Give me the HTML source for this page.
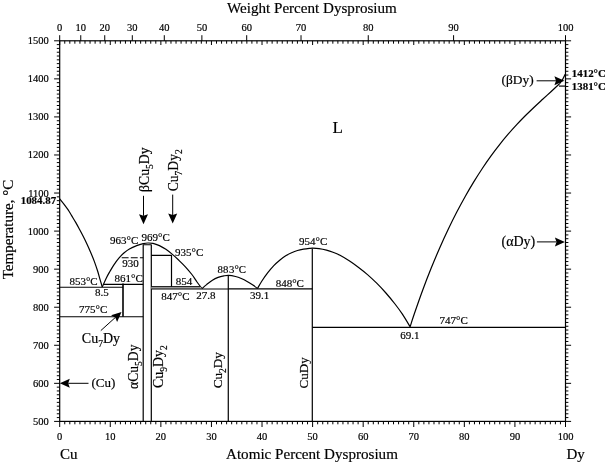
<!DOCTYPE html>
<html lang="en"><head><meta charset="utf-8"><title>Cu-Dy phase diagram</title>
<style>html,body{margin:0;padding:0;background:#fff}svg{display:block}</style></head>
<body>
<svg width="605" height="463" viewBox="0 0 605 463" font-family="'Liberation Serif', 'Times New Roman', Times, serif" fill="#000">
<rect width="605" height="463" fill="#fff"/>
<g stroke="#000" stroke-width="1.2" fill="none" stroke-linecap="butt">
<rect x="59.7" y="40.8" width="505.8" height="380.6"/>
<path d="M59.7 421.4h-5.6M565.5 421.4h5.6M59.7 417.59h-2.9M565.5 417.59h2.9M59.7 413.79h-2.9M565.5 413.79h2.9M59.7 409.98h-2.9M565.5 409.98h2.9M59.7 406.18h-2.9M565.5 406.18h2.9M59.7 402.37h-2.9M565.5 402.37h2.9M59.7 398.56h-2.9M565.5 398.56h2.9M59.7 394.76h-2.9M565.5 394.76h2.9M59.7 390.95h-2.9M565.5 390.95h2.9M59.7 387.15h-2.9M565.5 387.15h2.9M59.7 383.34h-5.6M565.5 383.34h5.6M59.7 379.53h-2.9M565.5 379.53h2.9M59.7 375.73h-2.9M565.5 375.73h2.9M59.7 371.92h-2.9M565.5 371.92h2.9M59.7 368.12h-2.9M565.5 368.12h2.9M59.7 364.31h-2.9M565.5 364.31h2.9M59.7 360.5h-2.9M565.5 360.5h2.9M59.7 356.7h-2.9M565.5 356.7h2.9M59.7 352.89h-2.9M565.5 352.89h2.9M59.7 349.09h-2.9M565.5 349.09h2.9M59.7 345.28h-5.6M565.5 345.28h5.6M59.7 341.47h-2.9M565.5 341.47h2.9M59.7 337.67h-2.9M565.5 337.67h2.9M59.7 333.86h-2.9M565.5 333.86h2.9M59.7 330.06h-2.9M565.5 330.06h2.9M59.7 326.25h-2.9M565.5 326.25h2.9M59.7 322.44h-2.9M565.5 322.44h2.9M59.7 318.64h-2.9M565.5 318.64h2.9M59.7 314.83h-2.9M565.5 314.83h2.9M59.7 311.03h-2.9M565.5 311.03h2.9M59.7 307.22h-5.6M565.5 307.22h5.6M59.7 303.41h-2.9M565.5 303.41h2.9M59.7 299.61h-2.9M565.5 299.61h2.9M59.7 295.8h-2.9M565.5 295.8h2.9M59.7 292h-2.9M565.5 292h2.9M59.7 288.19h-2.9M565.5 288.19h2.9M59.7 284.38h-2.9M565.5 284.38h2.9M59.7 280.58h-2.9M565.5 280.58h2.9M59.7 276.77h-2.9M565.5 276.77h2.9M59.7 272.97h-2.9M565.5 272.97h2.9M59.7 269.16h-5.6M565.5 269.16h5.6M59.7 265.35h-2.9M565.5 265.35h2.9M59.7 261.55h-2.9M565.5 261.55h2.9M59.7 257.74h-2.9M565.5 257.74h2.9M59.7 253.94h-2.9M565.5 253.94h2.9M59.7 250.13h-2.9M565.5 250.13h2.9M59.7 246.32h-2.9M565.5 246.32h2.9M59.7 242.52h-2.9M565.5 242.52h2.9M59.7 238.71h-2.9M565.5 238.71h2.9M59.7 234.91h-2.9M565.5 234.91h2.9M59.7 231.1h-5.6M565.5 231.1h5.6M59.7 227.29h-2.9M565.5 227.29h2.9M59.7 223.49h-2.9M565.5 223.49h2.9M59.7 219.68h-2.9M565.5 219.68h2.9M59.7 215.88h-2.9M565.5 215.88h2.9M59.7 212.07h-2.9M565.5 212.07h2.9M59.7 208.26h-2.9M565.5 208.26h2.9M59.7 204.46h-2.9M565.5 204.46h2.9M59.7 200.65h-2.9M565.5 200.65h2.9M59.7 196.85h-2.9M565.5 196.85h2.9M59.7 193.04h-5.6M565.5 193.04h5.6M59.7 189.23h-2.9M565.5 189.23h2.9M59.7 185.43h-2.9M565.5 185.43h2.9M59.7 181.62h-2.9M565.5 181.62h2.9M59.7 177.82h-2.9M565.5 177.82h2.9M59.7 174.01h-2.9M565.5 174.01h2.9M59.7 170.2h-2.9M565.5 170.2h2.9M59.7 166.4h-2.9M565.5 166.4h2.9M59.7 162.59h-2.9M565.5 162.59h2.9M59.7 158.79h-2.9M565.5 158.79h2.9M59.7 154.98h-5.6M565.5 154.98h5.6M59.7 151.17h-2.9M565.5 151.17h2.9M59.7 147.37h-2.9M565.5 147.37h2.9M59.7 143.56h-2.9M565.5 143.56h2.9M59.7 139.76h-2.9M565.5 139.76h2.9M59.7 135.95h-2.9M565.5 135.95h2.9M59.7 132.14h-2.9M565.5 132.14h2.9M59.7 128.34h-2.9M565.5 128.34h2.9M59.7 124.53h-2.9M565.5 124.53h2.9M59.7 120.73h-2.9M565.5 120.73h2.9M59.7 116.92h-5.6M565.5 116.92h5.6M59.7 113.11h-2.9M565.5 113.11h2.9M59.7 109.31h-2.9M565.5 109.31h2.9M59.7 105.5h-2.9M565.5 105.5h2.9M59.7 101.7h-2.9M565.5 101.7h2.9M59.7 97.89h-2.9M565.5 97.89h2.9M59.7 94.08h-2.9M565.5 94.08h2.9M59.7 90.28h-2.9M565.5 90.28h2.9M59.7 86.47h-2.9M565.5 86.47h2.9M59.7 82.67h-2.9M565.5 82.67h2.9M59.7 78.86h-5.6M565.5 78.86h5.6M59.7 75.05h-2.9M565.5 75.05h2.9M59.7 71.25h-2.9M565.5 71.25h2.9M59.7 67.44h-2.9M565.5 67.44h2.9M59.7 63.64h-2.9M565.5 63.64h2.9M59.7 59.83h-2.9M565.5 59.83h2.9M59.7 56.02h-2.9M565.5 56.02h2.9M59.7 52.22h-2.9M565.5 52.22h2.9M59.7 48.41h-2.9M565.5 48.41h2.9M59.7 44.61h-2.9M565.5 44.61h2.9M59.7 40.8h-5.6M565.5 40.8h5.6M59.7 421.4v5.6M59.7 40.8v4.2M64.76 421.4v2.9M64.76 40.8v2.9M69.82 421.4v2.9M69.82 40.8v2.9M74.87 421.4v2.9M74.87 40.8v2.9M79.93 421.4v2.9M79.93 40.8v2.9M84.99 421.4v2.9M84.99 40.8v2.9M90.05 421.4v2.9M90.05 40.8v2.9M95.11 421.4v2.9M95.11 40.8v2.9M100.16 421.4v2.9M100.16 40.8v2.9M105.22 421.4v2.9M105.22 40.8v2.9M110.28 421.4v5.6M110.28 40.8v4.2M115.34 421.4v2.9M115.34 40.8v2.9M120.4 421.4v2.9M120.4 40.8v2.9M125.45 421.4v2.9M125.45 40.8v2.9M130.51 421.4v2.9M130.51 40.8v2.9M135.57 421.4v2.9M135.57 40.8v2.9M140.63 421.4v2.9M140.63 40.8v2.9M145.69 421.4v2.9M145.69 40.8v2.9M150.74 421.4v2.9M150.74 40.8v2.9M155.8 421.4v2.9M155.8 40.8v2.9M160.86 421.4v5.6M160.86 40.8v4.2M165.92 421.4v2.9M165.92 40.8v2.9M170.98 421.4v2.9M170.98 40.8v2.9M176.03 421.4v2.9M176.03 40.8v2.9M181.09 421.4v2.9M181.09 40.8v2.9M186.15 421.4v2.9M186.15 40.8v2.9M191.21 421.4v2.9M191.21 40.8v2.9M196.27 421.4v2.9M196.27 40.8v2.9M201.32 421.4v2.9M201.32 40.8v2.9M206.38 421.4v2.9M206.38 40.8v2.9M211.44 421.4v5.6M211.44 40.8v4.2M216.5 421.4v2.9M216.5 40.8v2.9M221.56 421.4v2.9M221.56 40.8v2.9M226.61 421.4v2.9M226.61 40.8v2.9M231.67 421.4v2.9M231.67 40.8v2.9M236.73 421.4v2.9M236.73 40.8v2.9M241.79 421.4v2.9M241.79 40.8v2.9M246.85 421.4v2.9M246.85 40.8v2.9M251.9 421.4v2.9M251.9 40.8v2.9M256.96 421.4v2.9M256.96 40.8v2.9M262.02 421.4v5.6M262.02 40.8v4.2M267.08 421.4v2.9M267.08 40.8v2.9M272.14 421.4v2.9M272.14 40.8v2.9M277.19 421.4v2.9M277.19 40.8v2.9M282.25 421.4v2.9M282.25 40.8v2.9M287.31 421.4v2.9M287.31 40.8v2.9M292.37 421.4v2.9M292.37 40.8v2.9M297.43 421.4v2.9M297.43 40.8v2.9M302.48 421.4v2.9M302.48 40.8v2.9M307.54 421.4v2.9M307.54 40.8v2.9M312.6 421.4v5.6M312.6 40.8v4.2M317.66 421.4v2.9M317.66 40.8v2.9M322.72 421.4v2.9M322.72 40.8v2.9M327.77 421.4v2.9M327.77 40.8v2.9M332.83 421.4v2.9M332.83 40.8v2.9M337.89 421.4v2.9M337.89 40.8v2.9M342.95 421.4v2.9M342.95 40.8v2.9M348.01 421.4v2.9M348.01 40.8v2.9M353.06 421.4v2.9M353.06 40.8v2.9M358.12 421.4v2.9M358.12 40.8v2.9M363.18 421.4v5.6M363.18 40.8v4.2M368.24 421.4v2.9M368.24 40.8v2.9M373.3 421.4v2.9M373.3 40.8v2.9M378.35 421.4v2.9M378.35 40.8v2.9M383.41 421.4v2.9M383.41 40.8v2.9M388.47 421.4v2.9M388.47 40.8v2.9M393.53 421.4v2.9M393.53 40.8v2.9M398.59 421.4v2.9M398.59 40.8v2.9M403.64 421.4v2.9M403.64 40.8v2.9M408.7 421.4v2.9M408.7 40.8v2.9M413.76 421.4v5.6M413.76 40.8v4.2M418.82 421.4v2.9M418.82 40.8v2.9M423.88 421.4v2.9M423.88 40.8v2.9M428.93 421.4v2.9M428.93 40.8v2.9M433.99 421.4v2.9M433.99 40.8v2.9M439.05 421.4v2.9M439.05 40.8v2.9M444.11 421.4v2.9M444.11 40.8v2.9M449.17 421.4v2.9M449.17 40.8v2.9M454.22 421.4v2.9M454.22 40.8v2.9M459.28 421.4v2.9M459.28 40.8v2.9M464.34 421.4v5.6M464.34 40.8v4.2M469.4 421.4v2.9M469.4 40.8v2.9M474.46 421.4v2.9M474.46 40.8v2.9M479.51 421.4v2.9M479.51 40.8v2.9M484.57 421.4v2.9M484.57 40.8v2.9M489.63 421.4v2.9M489.63 40.8v2.9M494.69 421.4v2.9M494.69 40.8v2.9M499.75 421.4v2.9M499.75 40.8v2.9M504.8 421.4v2.9M504.8 40.8v2.9M509.86 421.4v2.9M509.86 40.8v2.9M514.92 421.4v5.6M514.92 40.8v4.2M519.98 421.4v2.9M519.98 40.8v2.9M525.04 421.4v2.9M525.04 40.8v2.9M530.09 421.4v2.9M530.09 40.8v2.9M535.15 421.4v2.9M535.15 40.8v2.9M540.21 421.4v2.9M540.21 40.8v2.9M545.27 421.4v2.9M545.27 40.8v2.9M550.33 421.4v2.9M550.33 40.8v2.9M555.38 421.4v2.9M555.38 40.8v2.9M560.44 421.4v2.9M560.44 40.8v2.9M565.5 421.4v5.6M565.5 40.8v4.2M59.7 40.8v-5.6M80.76 40.8v-5.6M104.74 40.8v-5.6M132.3 40.8v-5.6M164.29 40.8v-5.6M201.89 40.8v-5.6M246.7 40.8v-5.6M301.02 40.8v-5.6M368.25 40.8v-5.6M453.58 40.8v-5.6M565.5 40.8v-5.6" stroke-width="1"/>
</g>
<g stroke="#000" stroke-width="1.2" fill="none" stroke-linejoin="round">
<path d="M59.7 198.8C60.43 199.72 62.72 202.48 64.1 204.3C65.48 206.12 66.72 207.77 68 209.7C69.28 211.63 70.52 213.78 71.8 215.9C73.08 218.02 74.4 220.13 75.7 222.4C77 224.67 78.33 227.15 79.6 229.5C80.87 231.85 82.12 234.17 83.3 236.5C84.48 238.83 85.48 240.88 86.7 243.5C87.92 246.12 89.32 249.18 90.6 252.2C91.88 255.22 93.22 258.42 94.4 261.6C95.58 264.78 96.72 268.17 97.7 271.3C98.68 274.43 99.53 277.78 100.3 280.4C101.07 283.02 101.97 285.9 102.3 287"/>
<path d="M102.3 287C102.93 285.57 104.82 281.02 106.1 278.4C107.38 275.78 108.7 273.57 110 271.3C111.3 269.03 112.38 267.03 113.9 264.8C115.42 262.57 117.38 259.92 119.1 257.9C120.82 255.88 122.48 254.2 124.2 252.7C125.92 251.2 127.32 250.08 129.4 248.9C131.48 247.72 134.4 246.47 136.7 245.6C139 244.73 141.35 244.13 143.2 243.7C145.05 243.27 146.17 243.05 147.8 243C149.43 242.95 151.07 242.97 153 243.4C154.93 243.83 157.25 244.62 159.4 245.6C161.55 246.58 163.73 247.83 165.9 249.3C168.07 250.77 170.23 252.57 172.4 254.4C174.57 256.23 176.73 258.23 178.9 260.3C181.07 262.37 183.23 264.43 185.4 266.8C187.57 269.17 189.97 271.97 191.9 274.5C193.83 277.03 195.32 279.65 197 282C198.68 284.35 201.17 287.5 202 288.6"/>
<path d="M202 288.6C202.77 287.93 204.87 286 206.6 284.6C208.33 283.2 210.48 281.4 212.4 280.2C214.32 279 216.18 278.12 218.1 277.4C220.02 276.68 222.15 276.23 223.9 275.9C225.65 275.57 226.67 275.3 228.6 275.4C230.53 275.5 233.38 275.98 235.5 276.5C237.62 277.02 239.37 277.68 241.3 278.5C243.23 279.32 245.17 280.3 247.1 281.4C249.03 282.5 251.17 283.92 252.9 285.1C254.63 286.28 256.73 287.93 257.5 288.5"/>
<path d="M257.5 288.5C258.23 287.25 260.18 283.63 261.9 281C263.62 278.37 265.82 275.27 267.8 272.7C269.78 270.13 271.82 267.68 273.8 265.6C275.78 263.52 277.72 261.83 279.7 260.2C281.68 258.57 283.72 257.05 285.7 255.8C287.68 254.55 289.63 253.58 291.6 252.7C293.57 251.82 295.52 251.08 297.5 250.5C299.48 249.92 301.52 249.55 303.5 249.2C305.48 248.85 307.88 248.57 309.4 248.4C310.92 248.23 311 248.17 312.6 248.2C314.2 248.23 316.68 248.28 319 248.6C321.32 248.92 324.17 249.5 326.5 250.1C328.83 250.7 330.75 251.33 333 252.2C335.25 253.07 337.3 253.87 340 255.3C342.7 256.73 346.15 258.82 349.2 260.8C352.25 262.78 355.25 264.9 358.3 267.2C361.35 269.5 364.43 271.93 367.5 274.6C370.57 277.27 373.63 280.13 376.7 283.2C379.77 286.27 382.85 289.53 385.9 293C388.95 296.47 392.25 300.47 395 304C397.75 307.53 399.88 310.4 402.4 314.2C404.92 318 408.82 324.7 410.1 326.8"/>
<path d="M410.1 326.8C410.75 324.8 411.92 320.84 414 314.8C416.08 308.75 419.71 298.27 422.56 290.53C425.41 282.79 428.26 275.43 431.12 268.34C433.97 261.24 436.82 254.49 439.68 247.98C442.53 241.47 445.38 235.26 448.24 229.27C451.09 223.29 453.94 217.57 456.79 212.06C459.65 206.55 462.5 201.29 465.35 196.21C468.21 191.14 471.06 186.3 473.91 181.63C476.76 176.97 479.62 172.51 482.47 168.22C485.32 163.94 488.18 159.84 491.03 155.91C493.88 151.97 496.74 148.21 499.59 144.6C502.44 140.98 505.29 137.54 508.15 134.21C511 130.89 513.85 127.72 516.71 124.65C519.56 121.58 522.41 118.65 525.26 115.78C528.12 112.92 530.97 110.18 533.82 107.46C536.68 104.75 539.53 102.14 542.38 99.51C545.24 96.88 548.09 94.33 550.94 91.7C553.79 89.07 558.07 85.08 559.5 83.75"/>
<path d="M559.5 83.75Q562.6 80.5 565.2 74.29"/>
<path d="M559 86.09H565.5"/>
<path d="M59.7 287.25H123"/>
<path d="M59.7 316.74H143.2"/>
<path d="M103.4 284.4H143.2"/>
<path d="M123 316.74V283.5" stroke-width="1.6"/>
<path d="M143.2 421.4V244.73H151.3V421.4"/>
<path d="M121.7 257.74H143.2" stroke-dasharray="6.9 2.2"/>
<path d="M151.3 255.46H171.5V286.67"/>
<path d="M151.3 286.67H200.5L202 288.95H151.3Z" fill="#b4b4b4" stroke="none"/>
<path d="M151.3 286.67H200.3" stroke-width="1"/>
<path d="M151.3 288.95H228.28" stroke-width="1.1"/>
<path d="M228.28 421.4V275.63"/>
<path d="M228.28 288.95H312.3"/>
<path d="M312.3 421.4V248.61"/>
<path d="M312.3 327.39H565.5"/>
</g>
<path d="M143.5 195.8L143.5 215.8" stroke="#000" stroke-width="1" fill="none"/>
<path d="M143.5 224.2L139 214.2L143.5 215.8L148 214.2Z" fill="#000"/>
<path d="M172.7 194.6L172.7 215" stroke="#000" stroke-width="1" fill="none"/>
<path d="M172.7 223.4L168.2 213.4L172.7 215L177.2 213.4Z" fill="#000"/>
<path d="M88.5 383.3L68.2 383.3" stroke="#000" stroke-width="1" fill="none"/>
<path d="M59.8 383.3L69.8 378.8L68.2 383.3L69.8 387.8Z" fill="#000"/>
<path d="M100.8 330.6L115.27 317.53" stroke="#000" stroke-width="1" fill="none"/>
<path d="M121.5 311.9L117.1 321.94L115.27 317.53L111.06 315.26Z" fill="#000"/>
<path d="M536.9 241.9L556.5 241.9" stroke="#000" stroke-width="1" fill="none"/>
<path d="M564.9 241.9L554.9 246.4L556.5 241.9L554.9 237.4Z" fill="#000"/>
<path d="M536.6 80.8L556 80.8" stroke="#000" stroke-width="1" fill="none"/>
<path d="M564.4 80.8L554.4 85.3L556 80.8L554.4 76.3Z" fill="#000"/>
<g stroke="#000" stroke-width="0.18">
<text x="48.8" y="424.9" font-size="10.5" text-anchor="end">500</text>
<text x="48.8" y="386.84" font-size="10.5" text-anchor="end">600</text>
<text x="48.8" y="348.78" font-size="10.5" text-anchor="end">700</text>
<text x="48.8" y="310.72" font-size="10.5" text-anchor="end">800</text>
<text x="48.8" y="272.66" font-size="10.5" text-anchor="end">900</text>
<text x="48.8" y="234.6" font-size="10.5" text-anchor="end">1000</text>
<text x="48.8" y="196.54" font-size="10.5" text-anchor="end">1100</text>
<text x="48.8" y="158.48" font-size="10.5" text-anchor="end">1200</text>
<text x="48.8" y="120.42" font-size="10.5" text-anchor="end">1300</text>
<text x="48.8" y="82.36" font-size="10.5" text-anchor="end">1400</text>
<text x="48.8" y="44.3" font-size="10.5" text-anchor="end">1500</text>
<text x="59.7" y="439.7" font-size="10.5" text-anchor="middle">0</text>
<text x="110.28" y="439.7" font-size="10.5" text-anchor="middle">10</text>
<text x="160.86" y="439.7" font-size="10.5" text-anchor="middle">20</text>
<text x="211.44" y="439.7" font-size="10.5" text-anchor="middle">30</text>
<text x="262.02" y="439.7" font-size="10.5" text-anchor="middle">40</text>
<text x="312.6" y="439.7" font-size="10.5" text-anchor="middle">50</text>
<text x="363.18" y="439.7" font-size="10.5" text-anchor="middle">60</text>
<text x="413.76" y="439.7" font-size="10.5" text-anchor="middle">70</text>
<text x="464.34" y="439.7" font-size="10.5" text-anchor="middle">80</text>
<text x="514.92" y="439.7" font-size="10.5" text-anchor="middle">90</text>
<text x="565.5" y="439.7" font-size="10.5" text-anchor="middle">100</text>
<text x="59.7" y="31.4" font-size="10.5" text-anchor="middle">0</text>
<text x="80.76" y="31.4" font-size="10.5" text-anchor="middle">10</text>
<text x="104.74" y="31.4" font-size="10.5" text-anchor="middle">20</text>
<text x="132.3" y="31.4" font-size="10.5" text-anchor="middle">30</text>
<text x="164.29" y="31.4" font-size="10.5" text-anchor="middle">40</text>
<text x="201.89" y="31.4" font-size="10.5" text-anchor="middle">50</text>
<text x="246.7" y="31.4" font-size="10.5" text-anchor="middle">60</text>
<text x="301.02" y="31.4" font-size="10.5" text-anchor="middle">70</text>
<text x="368.25" y="31.4" font-size="10.5" text-anchor="middle">80</text>
<text x="453.58" y="31.4" font-size="10.5" text-anchor="middle">90</text>
<text x="565.5" y="31.4" font-size="10.5" text-anchor="middle">100</text>
<text x="227" y="13.2" font-size="15.1">Weight Percent Dysprosium</text>
<text x="226" y="459" font-size="15.1">Atomic Percent Dysprosium</text>
<text x="13.3" y="229.5" font-size="15.1" text-anchor="middle" transform="rotate(-90 13.3 229.5)">Temperature, °C</text>
<text x="60" y="459" font-size="15">Cu</text>
<text x="566.4" y="459.2" font-size="15">Dy</text>
<text x="20.7" y="204.4" font-size="10.9" font-weight="bold">1084.87</text>
<text x="571.8" y="76.9" font-size="10.9" font-weight="bold">1412°C</text>
<text x="571.8" y="89.8" font-size="10.9" font-weight="bold">1381°C</text>
<text x="110" y="244.2" font-size="11">963°C</text>
<text x="141.6" y="240.5" font-size="11">969°C</text>
<text x="175" y="255.9" font-size="11">935°C</text>
<text x="122.3" y="267.3" font-size="11">930</text>
<text x="69.4" y="284.5" font-size="11">853°C</text>
<text x="114.5" y="282.4" font-size="11">861°C</text>
<text x="95" y="296.2" font-size="11">8.5</text>
<text x="175.7" y="285.3" font-size="11">854</text>
<text x="161.3" y="299.9" font-size="11">847°C</text>
<text x="196.3" y="299.4" font-size="11">27.8</text>
<text x="79.1" y="313" font-size="11">775°C</text>
<text x="299" y="245" font-size="11">954°C</text>
<text x="217.5" y="273" font-size="10.8">88<tspan dx="0.7">3°C</tspan></text>
<text x="275.7" y="287.4" font-size="11">848°C</text>
<text x="250.1" y="299.4" font-size="11">39.1</text>
<text x="400.3" y="338.9" font-size="11">69.1</text>
<text x="439.6" y="323.9" font-size="11">747°C</text>
<text x="81.8" y="342.5" font-size="14">Cu<tspan font-size="9.5" dy="4">7</tspan><tspan dy="-4">Dy</tspan></text>
<text x="91.5" y="386.9" font-size="13">(Cu)</text>
<text x="501.5" y="246.2" font-size="14">(αDy)</text>
<text x="501.6" y="84.1" font-size="13.4">(βDy)</text>
<text x="332.6" y="133" font-size="17">L</text>
<text x="148.7" y="191.9" font-size="13.7" transform="rotate(-90 148.7 191.9)">βCu<tspan font-size="9.5" dy="4">5</tspan><tspan dy="-4">Dy</tspan></text>
<text x="178.2" y="191.3" font-size="13.6" transform="rotate(-90 178.2 191.3)">Cu<tspan font-size="9.5" dy="4">7</tspan><tspan dy="-4">Dy</tspan><tspan font-size="9.5" dy="4">2</tspan><tspan dy="-4"></tspan></text>
<text x="137.7" y="388.9" font-size="13.6" transform="rotate(-90 137.7 388.9)">αCu<tspan font-size="9.5" dy="4">5</tspan><tspan dy="-4">Dy</tspan></text>
<text x="162.9" y="388" font-size="13.9" transform="rotate(-90 162.9 388)">Cu<tspan font-size="9.5" dy="4">9</tspan><tspan dy="-4">Dy</tspan><tspan font-size="9.5" dy="4">2</tspan><tspan dy="-4"></tspan></text>
<text x="222.1" y="388.3" font-size="13.2" transform="rotate(-90 222.1 388.3)">Cu<tspan font-size="9.5" dy="4">2</tspan><tspan dy="-4">Dy</tspan></text>
<text x="307.7" y="388.5" font-size="13.1" transform="rotate(-90 307.7 388.5)">CuDy</text>
</g>
</svg>
</body></html>
